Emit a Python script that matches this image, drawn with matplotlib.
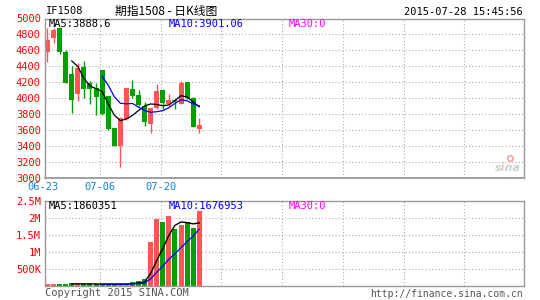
import numpy as np
import pandas as pd
import matplotlib
matplotlib.use("Agg")
import matplotlib.pyplot as plt
from matplotlib.lines import Line2D

# daily K data for IF1508
dates = ['06-23', '06-24', '06-25', '06-26', '06-29', '06-30', '07-01', '07-02',
         '07-03', '07-06', '07-07', '07-08', '07-09', '07-10', '07-13', '07-14',
         '07-15', '07-16', '07-17', '07-20', '07-21', '07-22', '07-23', '07-24',
         '07-27', '07-28']
opens = [4583, 4750, 4883, 4575, 4304, 4046, 4388, 4192, 4129, 4350, 4025, 3621, 3400,
         3733, 4108, 4038, 3900, 3671, 3879, 4100, 3921, 3975, 3929, 4200, 4004, 3610]
highs = [4875, 4880, 4890, 4608, 4400, 4442, 4462, 4215, 4192, 4355, 4030, 3625, 3762,
         4125, 4221, 4096, 3950, 3879, 4179, 4108, 4054, 3996, 4213, 4205, 4013, 3754]
lows = [4458, 4692, 4555, 4185, 3817, 3963, 3996, 3921, 3787, 3790, 3600, 3395, 3129,
        3725, 4004, 3900, 3642, 3558, 3858, 3858, 3900, 3858, 3920, 3990, 3630, 3554]
closes = [4729, 4854, 4583, 4192, 3975, 4379, 4108, 4108, 4017, 3796, 3608, 3400, 3754,
          4121, 4025, 3913, 3692, 3874.6, 4088, 3942, 3971, 3957, 4192, 3996, 3638, 3660]
volumes = [50000, 52000, 48000, 50000, 80000, 50000, 45000, 45000, 45000, 45000, 45000,
           48000, 50000, 50000, 105000, 145000, 210000, 1300000, 1980000, 1900000,
           2077775, 1680000, 1800000, 1880000, 1720000, 2221755]

price_ticks = [3000, 3200, 3400, 3600, 3800, 4000, 4200, 4400, 4600, 4800, 5000]
vol_ticks = [500000, 1000000, 1500000, 2000000, 2500000]
vol_tick_labels = ['500K', '1M', '1.5M', '2M', '2.5M']
date_labels = {0: '06-23', 9: '07-06', 19: '07-20'}

UP = '#ff5555'
DOWN = '#00a000'
MONO = 'DejaVu Sans Mono'
W, H = 540, 300

df = pd.DataFrame({'open': opens, 'high': highs, 'low': lows,
                   'close': closes, 'vol': volumes})
df['ma5'] = df['close'].rolling(5).mean()
df['ma10'] = df['close'].rolling(10).mean()
df['vma5'] = df['vol'].rolling(5).mean()
df['vma10'] = df['vol'].rolling(10).mean()
x = np.arange(len(df))
up = df['close'] >= df['open']
colors = [UP if u else DOWN for u in up]

fig = plt.figure(figsize=(W / 100, H / 100), dpi=100)
fig.patch.set_facecolor('white')


def fig_box(left, top, right, bottom):
    return [left / W, 1 - bottom / H, (right - left) / W, (bottom - top) / H]


def ftext(px, py, s, **kw):
    fig.text(px / W, 1 - py / H, s, **kw)


ax = fig.add_axes(fig_box(45, 18.5, 524, 177.5))
axv = fig.add_axes(fig_box(45, 201.3, 524, 285.7))

xlim = (-0.41, 78.5)
grid_x = np.arange(8.65, 78, 10)

for a in (ax, axv):
    a.set_xlim(*xlim)
    a.set_xticks(grid_x)
    a.set_xticklabels([])
    a.tick_params(length=0, pad=3)
    a.grid(True, color='#aaaaaa', linestyle=(0, (1, 2)), linewidth=0.8)
    a.set_axisbelow(True)
    for s in a.spines.values():
        s.set_color('#999999')
        s.set_linewidth(1.0)

# candles
body_w = 0.82
ax.vlines(x, df['low'], df['high'], colors=colors, linewidth=1.0)
body_bottom = np.minimum(df['open'], df['close'])
body_h = np.maximum(np.abs(df['close'] - df['open']), 6)
ax.bar(x, body_h, bottom=body_bottom, width=body_w, color=colors, linewidth=0)
ax.plot(x, df['ma5'], color='black', linewidth=0.9)
ax.plot(x, df['ma10'], color='#0000ff', linewidth=0.9)

ax.set_ylim(3000, 5000)
ax.set_yticks(price_ticks)
ax.set_yticklabels([str(t) for t in price_ticks], color='red', fontsize=7.5,
                   family=MONO)
ax.spines['bottom'].set_linewidth(1.3)

for i, lab in date_labels.items():
    xpos = -0.8 if i == 0 else grid_x[0] + (i - 9)
    ax.annotate(lab, xy=(xpos, 0), xycoords=('data', 'axes fraction'),
                xytext=(0, -6.6), textcoords='offset points', ha='center',
                va='center', color='#1a7fd4', fontsize=7.5, family=MONO,
                annotation_clip=False)

# volume
axv.bar(x, df['vol'], width=body_w, color=colors, linewidth=0)
axv.plot(x, df['vma5'], color='black', linewidth=1.0)
axv.plot(x, df['vma10'], color='#0000ff', linewidth=0.9)
axv.set_ylim(0, 2500000)
axv.set_yticks(vol_ticks)
axv.set_yticklabels(vol_tick_labels, color='red', fontsize=7.5, family=MONO)

# header, ma labels and footer
ftext(46, 11, 'IF1508', fontsize=7.5, family=MONO, va='center')
ftext(115, 11, '期指1508 - 日K线图', fontsize=8.5,
      family=['Noto Sans CJK SC', 'DejaVu Sans'], va='center')
ftext(523, 12, '2015-07-28 15:45:56', fontsize=7.5, family=MONO, va='center',
      ha='right')

last = df.iloc[-1]
ftext(49, 24, 'MA5:%.1f' % last['ma5'], fontsize=7.5, family=MONO, va='center')
ftext(169, 24, 'MA10:%.2f' % last['ma10'], fontsize=7.5, family=MONO,
      va='center', color='#0000ff')
ftext(289, 24, 'MA30:0', fontsize=7.5, family=MONO, va='center', color='#ff00ff')
ftext(49, 206, 'MA5:%d' % round(last['vma5']), fontsize=7.5, family=MONO,
      va='center')
ftext(169, 206, 'MA10:%d' % round(last['vma10']), fontsize=7.5, family=MONO,
      va='center', color='#0000ff')
ftext(289, 206, 'MA30:0', fontsize=7.5, family=MONO, va='center', color='#ff00ff')

ftext(45, 293, 'Copyright 2015 SINA.COM', fontsize=7.5, family=MONO,
      va='center', color='#555555')
ftext(523, 294, 'http://finance.sina.com.cn', fontsize=7, family=MONO,
      va='center', ha='right', color='#555555')

# sina watermark
ftext(521, 168, 'sina', fontsize=8, style='italic', weight='bold',
      color='#cfcfcf', ha='right', va='center')
fig.add_artist(Line2D([510 / W], [1 - 158 / H], marker='o', markersize=4,
                      markerfacecolor='none', markeredgecolor='#f2a5a5',
                      markeredgewidth=1.2, transform=fig.transFigure))

fig.savefig('out.png', dpi=100)
